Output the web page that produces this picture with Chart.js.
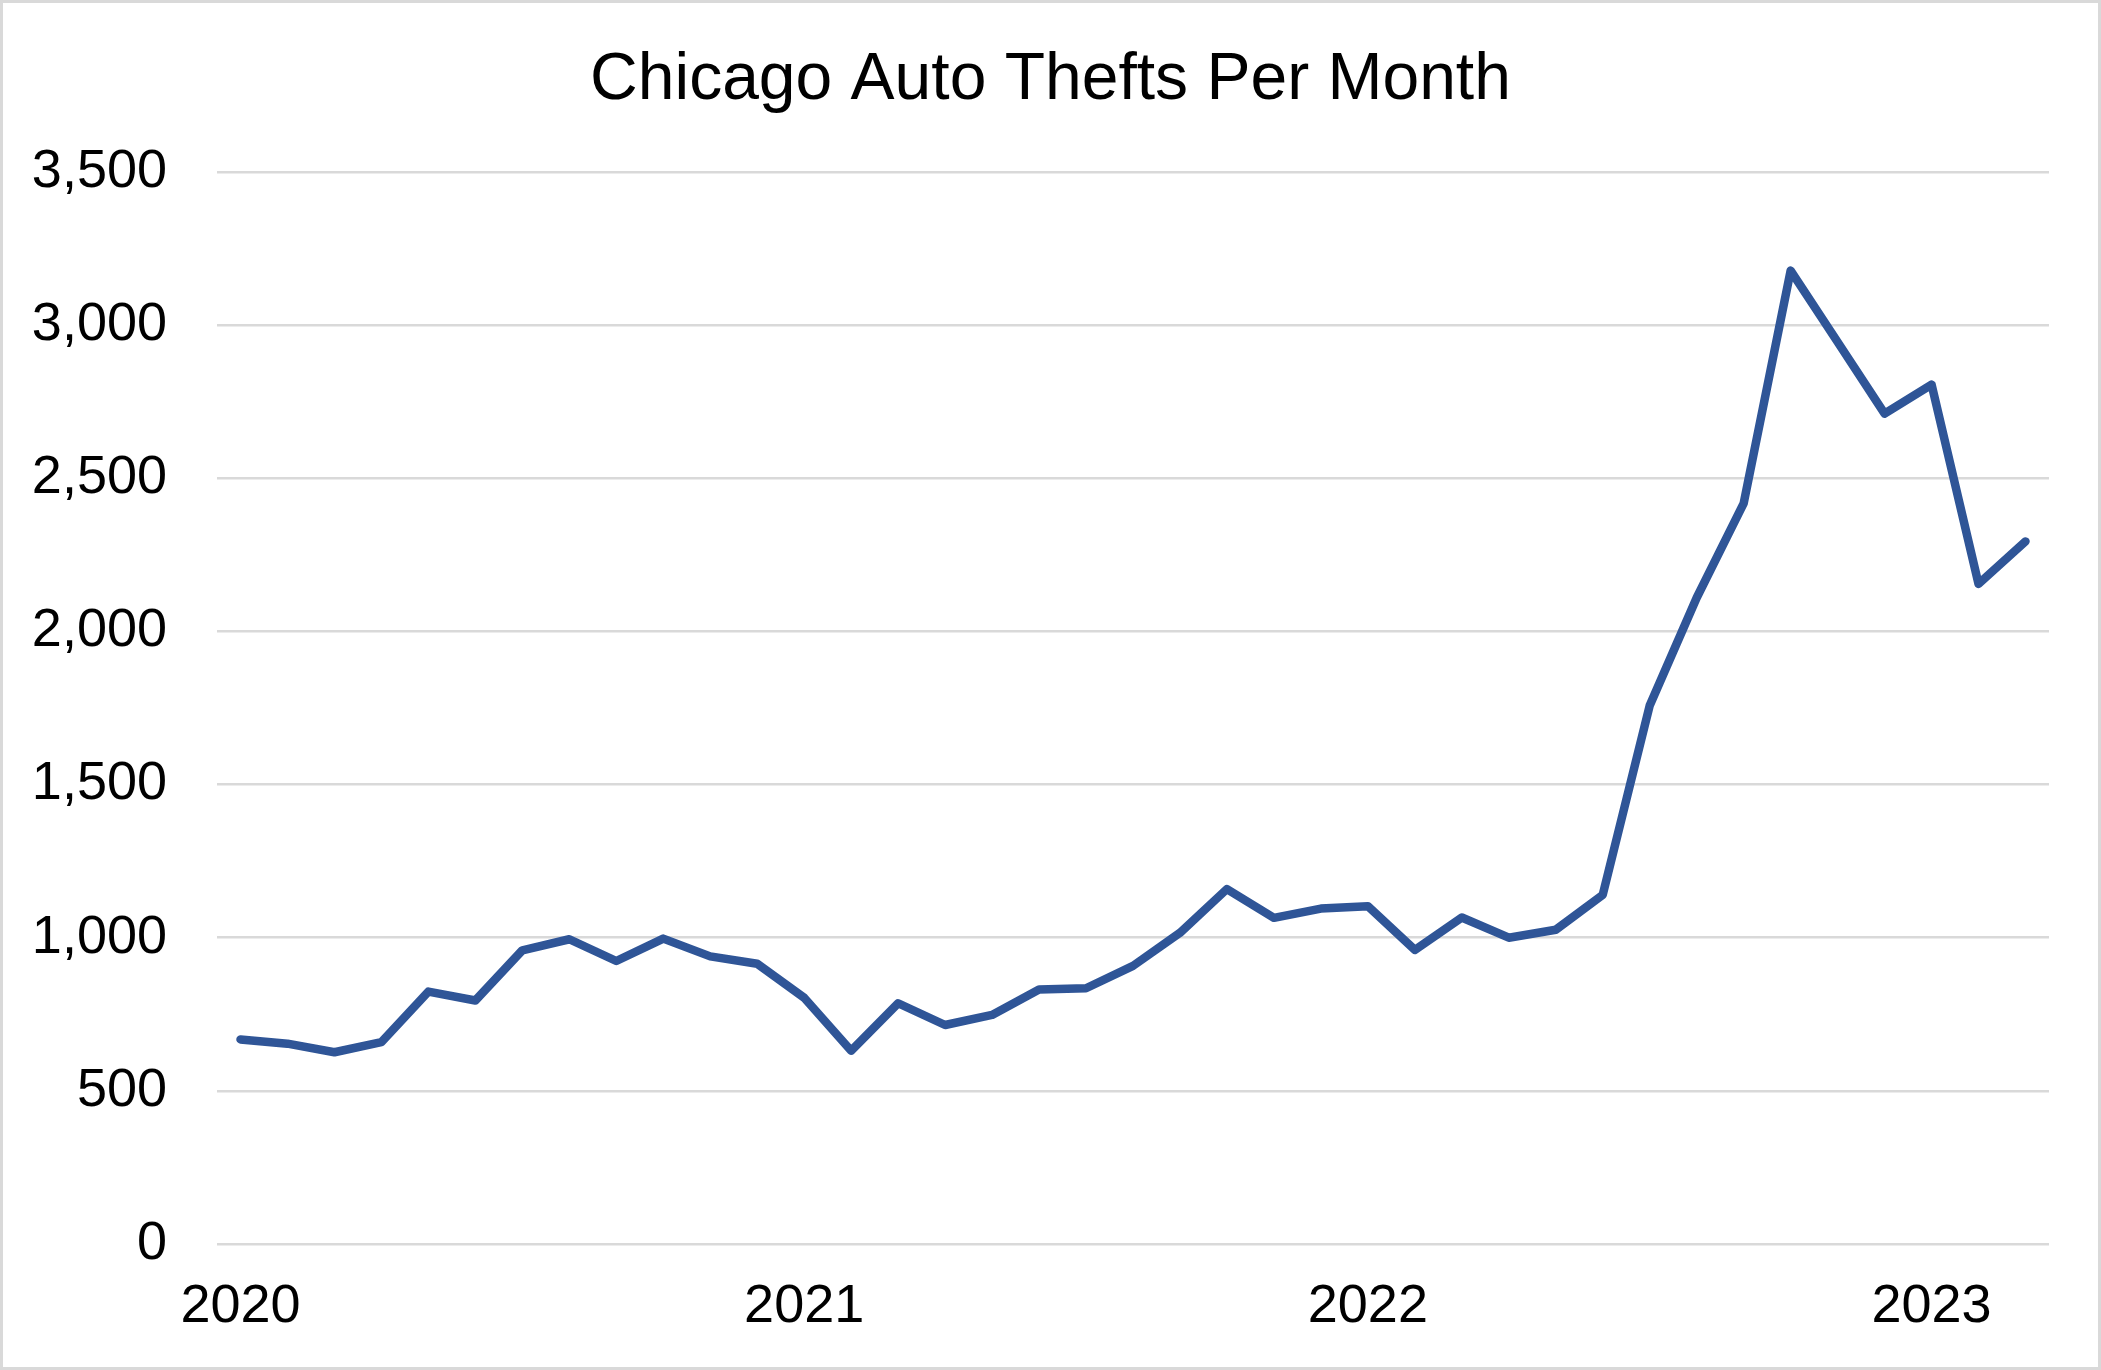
<!DOCTYPE html>
<html>
<head>
<meta charset="utf-8">
<title>Chicago Auto Thefts Per Month</title>
<script src="https://cdn.jsdelivr.net/npm/chart.js@4.4.1/dist/chart.umd.min.js"></script>
<style>
    html, body { margin: 0; padding: 0; background: #ffffff; }
    #theftChart {
        display: block;
        outline: 3px solid #d9d9d9;
        outline-offset: -3px;
    }
</style>
</head>
<body>
<canvas id="theftChart" width="2101" height="1370"></canvas>
<script>
// Monthly categories, Jan 2020 - Mar 2023
const months = [
    "Jan 2020", "Feb 2020", "Mar 2020", "Apr 2020", "May 2020", "Jun 2020",
    "Jul 2020", "Aug 2020", "Sep 2020", "Oct 2020", "Nov 2020", "Dec 2020",
    "Jan 2021", "Feb 2021", "Mar 2021", "Apr 2021", "May 2021", "Jun 2021",
    "Jul 2021", "Aug 2021", "Sep 2021", "Oct 2021", "Nov 2021", "Dec 2021",
    "Jan 2022", "Feb 2022", "Mar 2022", "Apr 2022", "May 2022", "Jun 2022",
    "Jul 2022", "Aug 2022", "Sep 2022", "Oct 2022", "Nov 2022", "Dec 2022",
    "Jan 2023", "Feb 2023", "Mar 2023"
];

// Auto thefts per month
const thefts = [
    668, 654, 626, 659, 824, 795, 959, 995, 924, 997, 939, 915,
    804, 631, 786, 715, 748, 831, 835, 908, 1016, 1159, 1065, 1095,
    1103, 960, 1066, 1000, 1026, 1140, 1758, 2110, 2418, 3178, 2945, 2711,
    2806, 2155, 2294
];

// Labels shown on the x axis (one per January)
const yearLabels = ["2020", "2021", "2022", "2023"];

const FONT = "'Liberation Sans', Arial, Helvetica, sans-serif";

const ctx = document.getElementById("theftChart").getContext("2d");

new Chart(ctx, {
    type: "line",
    data: {
        labels: months,
        datasets: [
            {
                label: "Auto Thefts",
                data: thefts,
                borderColor: "#2f5597",
                borderWidth: 8.5,
                borderCapStyle: "round",
                borderJoinStyle: "round",
                pointRadius: 0,
                tension: 0,
                fill: false,
            },
        ],
    },
    options: {
        responsive: false,
        animation: false,
        devicePixelRatio: 1,
        layout: {
            padding: 0,
        },
        plugins: {
            legend: { display: false },
            tooltip: { enabled: false },
            title: {
                display: true,
                text: "Chicago Auto Thefts Per Month",
                color: "#000000",
                font: { family: FONT, size: 66, weight: "normal" },
                padding: { top: 41, bottom: 51.8 },
            },
        },
        scales: {
            x: {
                offset: true,
                grid: { display: false, drawTicks: false },
                border: { display: false },
                ticks: {
                    autoSkip: false,
                    maxRotation: 0,
                    minRotation: 0,
                    padding: 31,
                    color: "#000000",
                    font: { family: FONT, size: 54 },
                    // only label the January of each year
                    callback: (value, index) =>
                        index % 12 === 0 ? yearLabels[index / 12] : "",
                },
                // keep the axis band the same height as in the original
                afterFit: (scale) => { scale.height = 126; },
            },
            y: {
                min: 0,
                max: 3500,
                grid: { color: "#d9d9d9", lineWidth: 2.5, drawTicks: false },
                border: { display: false },
                ticks: {
                    stepSize: 500,
                    padding: 50,
                    color: "#000000",
                    font: { family: FONT, size: 54 },
                    callback: (value) => value.toLocaleString("en-US"),
                },
                afterFit: (scale) => { scale.width = 217; },
            },
            // empty band on the right so the title stays centred on the canvas
            yRight: {
                position: "right",
                min: 0,
                max: 3500,
                grid: { display: false, drawTicks: false },
                border: { display: false },
                ticks: { display: false },
                afterFit: (scale) => { scale.width = 52; },
            },
        },
    },
});
</script>
</body>
</html>
